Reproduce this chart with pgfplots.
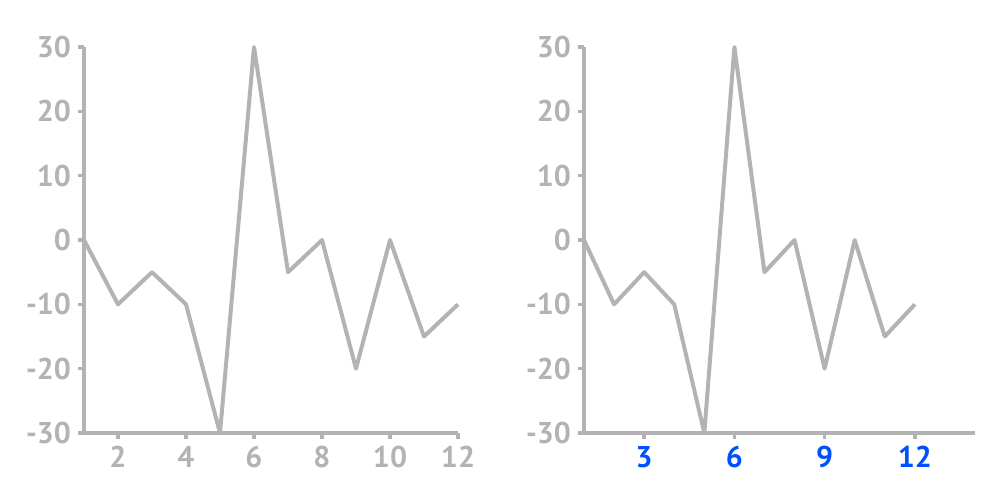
\documentclass[border=0pt]{standalone}
\usepackage{pgfplots}
\pgfplotsset{compat=1.18}
\usepackage{fontspec}
\setmainfont{PT Sans}
\definecolor{axgray}{HTML}{B3B3B3}
\definecolor{tickblue}{HTML}{0050FF}
\begin{document}
\begin{tikzpicture}
\path (0,0) rectangle (500pt,250pt);
\pgfplotsset{
  panel/.style={
    scale only axis,
    height=193pt,
    ymin=-30, ymax=30,
    ytick={-30,-20,...,30},
    axis lines=left,
    axis line style={axgray, line width=1.8pt, -},
    tick style={axgray, line width=1.8pt},
    major tick length=3pt,
    tick align=outside,
    clip=false,
    /pgf/number format/assume math mode=true,
    ticklabel style={font=\fontsize{15}{18}\selectfont\bfseries},
    yticklabel style={text=axgray},
  },
  series/.style={axgray, line width=2pt, line join=round, mark=none},
}
\begin{axis}[panel, at={(42pt,33.5pt)}, anchor=south west,
  width=187pt, xmin=1, xmax=12, xtick={2,4,...,12},
  xticklabel style={text=axgray}]
\addplot[series] coordinates {(1,0) (2,-10) (3,-5) (4,-10) (5,-30) (6,30) (7,-5) (8,0) (9,-20) (10,0) (11,-15) (12,-10)};
\end{axis}
\begin{axis}[panel, at={(292pt,33.5pt)}, anchor=south west,
  width=195.5pt, xmin=1, xmax=14, xtick={3,6,9,12},
  xticklabel style={text=tickblue}]
\addplot[series] coordinates {(1,0) (2,-10) (3,-5) (4,-10) (5,-30) (6,30) (7,-5) (8,0) (9,-20) (10,0) (11,-15) (12,-10)};
\end{axis}
\end{tikzpicture}
\end{document}
